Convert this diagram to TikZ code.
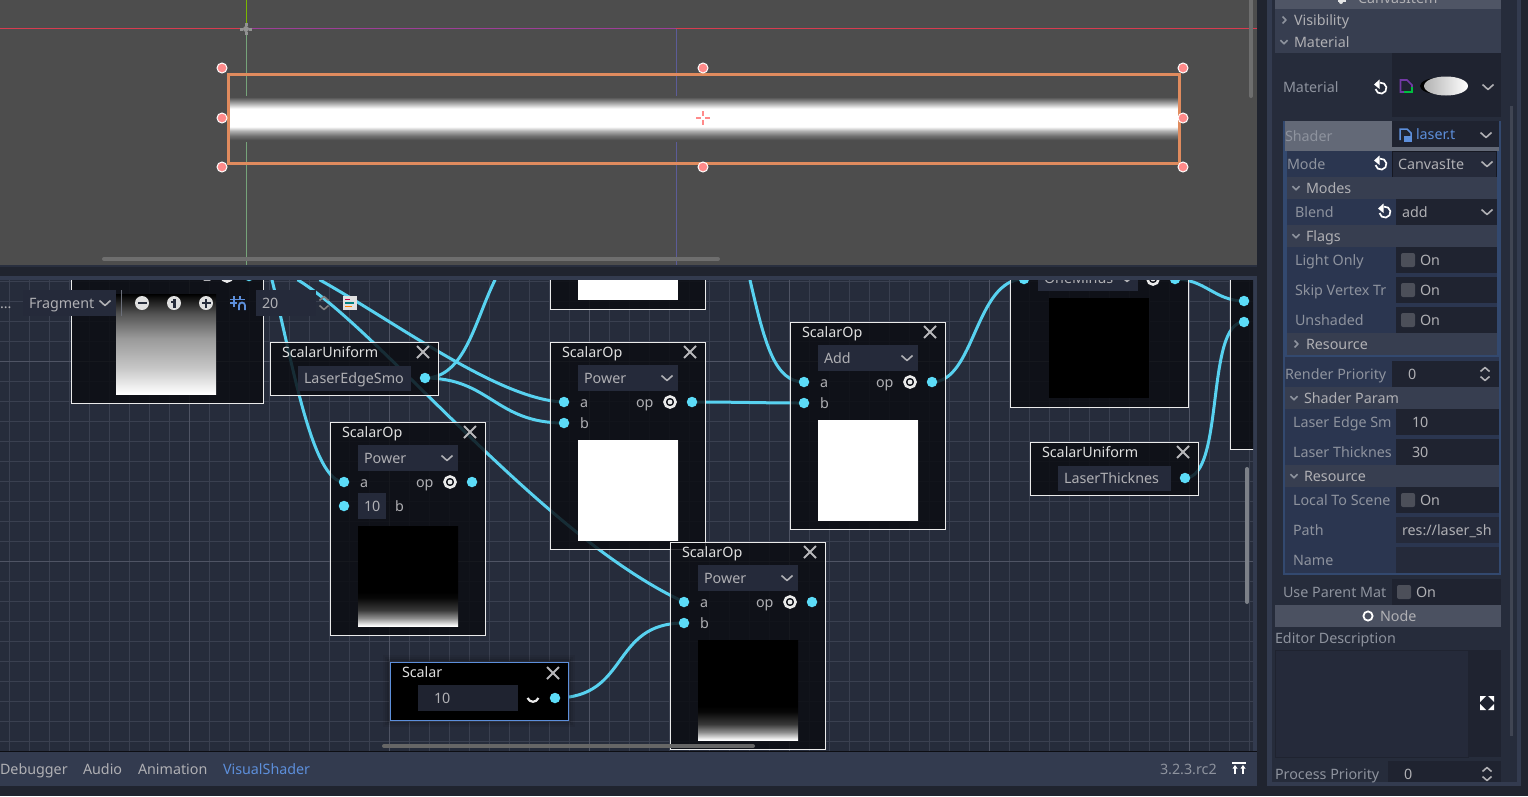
\documentclass[tikz,border=0pt]{standalone}
\usepackage{fontspec}
\setmainfont{Noto Sans}
\usetikzlibrary{shapes.geometric}
\definecolor{deskbg}{HTML}{20242F}
\definecolor{panelc}{HTML}{333B4F}
\definecolor{gridbg}{HTML}{262C3B}
\definecolor{gridmin}{HTML}{3A4050}
\definecolor{gridmaj}{HTML}{4F5464}
\definecolor{canvasc}{HTML}{4D4D4D}
\definecolor{gnodec}{HTML}{0B0C11}
\definecolor{fieldc}{HTML}{252A3A}
\definecolor{wirec}{HTML}{58D2F0}
\definecolor{portc}{HTML}{5CDCF8}
\definecolor{titlec}{HTML}{E0E0E0}
\definecolor{labelc}{HTML}{B0B0B4}
\definecolor{dockt}{HTML}{8E939E}
\definecolor{bluet}{HTML}{5D8FDB}
\definecolor{hdrc}{HTML}{373E50}
\definecolor{valc}{HTML}{1F2330}
\definecolor{sect}{HTML}{2B3650}
\definecolor{sectb}{HTML}{33496F}
\definecolor{orangec}{HTML}{E08B5E}
\definecolor{handlec}{HTML}{FF8A8A}
\definecolor{axred}{HTML}{D83C50}
\definecolor{axpur}{HTML}{9E3F98}
\definecolor{axgrn}{HTML}{76A47A}
\definecolor{axlim}{HTML}{7AB800}
\definecolor{axblu}{HTML}{5C5C98}
\pgfdeclareverticalshading{lasergrad}{100bp}{rgb(0bp)=(.302,.302,.302); rgb(26bp)=(.302,.302,.302); rgb(31bp)=(.45,.45,.45); rgb(36bp)=(.68,.68,.68); rgb(41bp)=(1,1,1); rgb(61bp)=(1,1,1); rgb(66bp)=(.72,.72,.72); rgb(70bp)=(.5,.5,.5); rgb(74bp)=(.302,.302,.302); rgb(100bp)=(.302,.302,.302)}
\pgfdeclareverticalshading{powergrad}{100bp}{rgb(0bp)=(1,1,1); rgb(25bp)=(1,1,1); rgb(26bp)=(.9,.9,.9); rgb(29bp)=(.55,.55,.55); rgb(33bp)=(.22,.22,.22); rgb(39bp)=(.03,.03,.03); rgb(42bp)=(0,0,0); rgb(100bp)=(0,0,0)}
\pgfdeclareverticalshading{softgrad}{100bp}{rgb(0bp)=(1,1,1); rgb(25bp)=(1,1,1); rgb(38bp)=(.78,.78,.78); rgb(53bp)=(.6,.6,.6); rgb(65bp)=(.33,.33,.33); rgb(75bp)=(0,0,0); rgb(100bp)=(0,0,0)}
\pgfdeclarelayer{wirelayer}
\pgfdeclarelayer{backlayer}
\pgfsetlayers{backlayer,wirelayer,main}
\tikzset{
 txt/.style={anchor=base west,inner sep=0pt,outer sep=0pt,font=\fontsize{14.3}{16}\selectfont,text=labelc},
 ttl/.style={txt,text=titlec},
 dk/.style={txt,text=dockt},
 lite/.style={txt,text=labelc},
 blu/.style={txt,text=bluet},
 gnode/.style={draw=white!92!black,line width=1pt,fill=gnodec,fill opacity=.83,anchor=north west,inner sep=0pt,outer sep=0pt},
 port/.style={circle,fill=portc,minimum size=10.5pt,inner sep=0pt,outer sep=0pt},
 wire/.style={draw=wirec,line width=3pt,line cap=round},
 field/.style={fill=fieldc},
 hdr/.style={fill=hdrc},
 xmark/.style={draw=labelc!90!white,line width=2pt},
 chev/.style={draw=#1,line width=1.6pt,line join=round},
 chev/.default={labelc},
 handle/.style={circle,draw=white,line width=1pt,fill=handlec,minimum size=10pt,inner sep=0pt,outer sep=0pt},
}
\newcommand{\tx}[5]{\node[#4] (#1) at (#2,#3) {#5};}
\newcommand{\cx}[2]{\draw[xmark] (#1-6,#2-6) -- (#1+6,#2+6) (#1-6,#2+6) -- (#1+6,#2-6);}
\newcommand{\dn}[3][labelc]{\draw[chev=#1] (#2-5.5,#3-2.5) -- (#2,#3+2.5) -- (#2+5.5,#3-2.5);}
\newcommand{\sdn}[2]{\draw[chev=dockt] (#1-3.5,#2-1.8) -- (#1,#2+1.8) -- (#1+3.5,#2-1.8);}
\newcommand{\rt}[2]{\draw[chev=dockt] (#1-1.5,#2-3.5) -- (#1+2,#2) -- (#1-1.5,#2+3.5);}
\newcommand{\spin}[3][labelc]{\draw[chev=#1] (#2-4.5,#3-2.5) -- (#2,#3-6.5) -- (#2+4.5,#3-2.5); \draw[chev=#1] (#2-4.5,#3+2.5) -- (#2,#3+6.5) -- (#2+4.5,#3+2.5);}
\newcommand{\eye}[2]{\draw[white!92!black,line width=2.5pt] (#1,#2) circle (5.6pt); \fill[white!92!black] (#1,#2) circle (2.4pt);}
\newcommand{\gbox}[5]{\node[gnode,minimum width=#4pt-#2pt,minimum height=#5pt-#3pt] (#1) at (#2,#3) {};}
\newcommand{\reset}[2]{\draw[white,line width=1.7pt] (#1-1,#2-5.3) arc[start angle=100,end angle=-170,radius=5.5pt]; \fill[white] (#1-7,#2-3.5) -- (#1-1.5,#2-8.5) -- (#1-1.5,#2+1) -- cycle;}
\newcommand{\ckbox}[2]{\fill[rounded corners=2pt,fill=white!20!valc] (#1,#2-7) rectangle (#1+14,#2+7);}
% id, x, y, height, op name, b offset, preview offset, shading
\newcommand{\scalarop}[8]{%
 \gbox{#1}{#2}{#3}{#2+155}{#3+#4}
 \tx{#1t}{#2+12}{#3+15}{ttl}{ScalarOp}
 \cx{#2+140}{#3+10}
 \fill[field] (#2+28,#3+23) rectangle (#2+128,#3+49);
 \tx{#1m}{#2+34}{#3+41}{lite}{#5}
 \dn[labelc]{#2+117}{#3+36}
 \node[port] (#1a) at (#2+14,#3+60) {};
 \node[port] (#1b) at (#2+14,#3+#6) {};
 \node[port] (#1o) at (#2+142,#3+60) {};
 \tx{#1la}{#2+30}{#3+65}{lite}{a}
 \tx{#1lo}{#2+86}{#3+65}{lite}{op}
 \eye{#2+120}{#3+60}
 \shade[shading=#8] (#2+28,#3+#7) rectangle (#2+128,#3+#7+100);
}
\begin{document}
\begin{tikzpicture}[x=1pt,y=-1pt]
\useasboundingbox (0,0) rectangle (1528,796);
% ------------------ background
\begin{pgfonlayer}{backlayer}
\fill[deskbg] (0,0) rectangle (1528,796);
\fill[canvasc] (0,0) rectangle (1257,265);
\fill[panelc!80!black] (0,265) rectangle (1257,267);
\fill[panelc] (0,276) rectangle (1257,786);
\fill[gridbg] (0,280) rectangle (1253,751);
\fill[black!60!deskbg] (0,751) rectangle (1257,752);
\begin{scope}
\clip (0,280) rectangle (1253,751);
\foreach \i in {0,...,62} \draw[gridmin,line width=.9pt] ({9.3+20*\i},280) -- ({9.3+20*\i},751);
\foreach \i in {0,...,23} \draw[gridmin,line width=.9pt] (0,{281+20*\i}) -- (1253,{281+20*\i});
\foreach \i in {0,...,6} \draw[gridmaj,line width=1pt] ({189.3+200*\i},280) -- ({189.3+200*\i},751);
\foreach \i in {0,1,2} \draw[gridmaj,line width=1pt] (0,{361+200*\i}) -- (1253,{361+200*\i});
\end{scope}
\end{pgfonlayer}
% ------------------ canvas viewport
\draw[axgrn,line width=1pt] (246,29) -- (246,265);
\draw[axlim,line width=1pt] (246,0) -- (246,29);
\draw[axred,line width=1pt] (0,28.5) -- (246,28.5);
\draw[axred,line width=1pt] (676,28.5) -- (1257,28.5);
\draw[axpur,line width=1pt] (246,28.5) -- (676,28.5);
\draw[axblu,line width=1pt] (676,29) -- (676,265);
\shade[shading=lasergrad] (229,96) rectangle (1178,141);
\draw[orangec,line width=3pt] (228,74) rectangle (1179,163);
\node[handle] (h1) at (222,68) {};
\node[handle] (h2) at (703,68) {};
\node[handle] (h3) at (1183,68) {};
\node[handle] (h4) at (222,118) {};
\node[handle] (h5) at (1183,118) {};
\node[handle] (h6) at (222,167) {};
\node[handle] (h7) at (703,167) {};
\node[handle] (h8) at (1183,167) {};
\draw[handlec,line width=1.3pt] (696,118) -- (701,118) (705,118) -- (710,118) (703,111) -- (703,116) (703,120) -- (703,125);
\draw[gray!85!white,line width=3pt] (240,29) -- (243,29) (249,29) -- (252,29) (246,23) -- (246,26) (246,32) -- (246,35);
\fill[gray!85!white] (246,29) circle (3pt);
\draw[white!43!black,line width=4pt,line cap=round] (104,259) -- (718,259);
\draw[white!43!black,line width=4pt,line cap=round] (1251,0) -- (1251,96);
% ------------------ graph nodes (clipped)
\begin{scope}
\clip (0,280) rectangle (1253,751);
% top left node
\gbox{tl}{71}{200}{263}{403}
\shade[shading=softgrad] (116,294) rectangle (216,394);
\tx{tlb}{203}{281}{lite}{2}
\eye{227}{276}
\node[port] (tlo) at (249,276) {};
% partial centre top
\gbox{pc}{550}{200}{705}{309}
\fill[white] (578,200) rectangle (678,300);
% OneMinus
\gbox{om}{1010}{200}{1188}{407}
\fill[field] (1038,265) rectangle (1138,291);
\tx{omt}{1044}{283}{lite}{OneMinus}
\dn{1127}{279}
\eye{1153}{279}
\node[port] (oma) at (1024,279) {};
\node[port] (omo) at (1175,279) {};
\fill[black] (1049,298) rectangle (1149,398);
% right partial
\gbox{rp}{1230}{200}{1300}{449}
\node[port] (rpa) at (1244,301) {};
\node[port] (rpb) at (1244,322) {};
% ScalarUniform 1
\gbox{su}{270}{342}{438}{395}
\tx{sut}{282}{357}{ttl}{ScalarUniform}
\cx{423}{352}
\fill[field] (298,366) rectangle (411,391);
\tx{suv}{304}{383}{lite}{LaserEdgeSmo}
\node[port] (suo) at (425,378) {};
% ScalarUniform 2
\gbox{st}{1030}{442}{1198}{495}
\tx{stt}{1042}{457}{ttl}{ScalarUniform}
\cx{1183}{452}
\fill[field] (1058,466) rectangle (1171,491);
\tx{stv}{1064}{483}{lite}{LaserThicknes}
\node[port] (sto) at (1185,478) {};
% ScalarOps
\scalarop{oa}{330}{422}{213}{Power}{84}{104}{powergrad}
\fill[field] (358,493) rectangle (386,519);
\tx{oav}{364}{511}{lite}{10}
\tx{oalb}{395}{511}{lite}{b}
\scalarop{ob}{550}{342}{207}{Power}{81}{98}{axis}
\tx{oblb}{580}{428}{lite}{b}
\fill[white] (578,440) rectangle (678,540);
\scalarop{oc}{790}{322}{207}{Add}{81}{98}{axis}
\tx{oclb}{820}{408}{lite}{b}
\fill[white] (818,420) rectangle (918,520);
\scalarop{od}{670}{542}{207}{Power}{81}{98}{powergrad}
\tx{odlb}{700}{628}{lite}{b}
% Scalar
\foreach \s/\o in {7/.05,5/.07,3/.09,1/.12} \fill[black,opacity=\o] (390-\s,662-\s) rectangle (568+\s,720+\s);
\node[draw=bluet,line width=1pt,fill=black,anchor=north west,minimum width=178pt,minimum height=58pt,inner sep=0pt,outer sep=0pt] (sc) at (390,662) {};
\tx{sct}{402}{677}{ttl}{Scalar}
\cx{553}{673}
\fill[valc] (418,685) rectangle (518,711);
\tx{scv}{434}{703}{lite}{10}
\draw[white!92!black,line width=2.2pt] (527.5,698) .. controls (530,703) and (536,703) .. (538.5,698);
\node[port] (sco) at (555,698) {};
\end{scope}
\coordinate (w1s) at (272,280);
\coordinate (w2s) at (298,280);
\coordinate (w3s) at (320,280);
\coordinate (w4e) at (495,280);
\coordinate (w7s) at (750,280);
% ------------------ wires under the nodes
\begin{pgfonlayer}{wirelayer}
\begin{scope}
\clip (0,280) rectangle (1253,751);
\draw[wire] (w1s) .. controls (292,360) and (312,482) .. (oaa.center);
\draw[wire] (w2s) .. controls (380,330) and (540,535) .. (oda.center);
\draw[wire] (w3s) .. controls (400,325) and (500,400) .. (oba.center);
\draw[wire] (suo.center) .. controls (465,378) and (475,320) .. (w4e);
\draw[wire] (suo.center) .. controls (490,378) and (495,423) .. (obb.center);
\draw[wire] (obo.center) .. controls (740,402) and (760,403) .. (ocb.center);
\draw[wire] (w7s) .. controls (765,345) and (775,382) .. (oca.center);
\draw[wire] (oco.center) .. controls (975,382) and (975,279) .. (oma.center);
\draw[wire] (omo.center) .. controls (1205,279) and (1215,301) .. (rpa.center);
\draw[wire] (sto.center) .. controls (1225,478) and (1205,322) .. (rpb.center);
\draw[wire] (sco.center) .. controls (630,698) and (610,623) .. (odb.center);
\end{scope}
\end{pgfonlayer}
% ------------------ toolbar over the graph
\tx{tdots}{0}{308}{lite}{...}
\fill[field] (23,290) rectangle (116,316);
\tx{tfrag}{29}{308}{lite}{Fragment}
\dn{105}{303}
\draw[white!32!gridbg,line width=1pt] (121.5,290) -- (121.5,316);
\fill[white!88!black] (142,303) circle (7pt);
\fill[gridbg] (137.5,301.8) rectangle (146.5,304.2);
\fill[white!88!black] (174,303) circle (7pt);
\fill[gridbg] (173,298.5) rectangle (175.5,307.5);
\fill[gridbg] (171,300.5) rectangle (174,302.5);
\fill[white!88!black] (206,303) circle (7pt);
\fill[gridbg] (201.5,301.8) rectangle (210.5,304.2);
\fill[gridbg] (204.8,298.5) rectangle (207.2,307.5);
\draw[bluet,line width=1.8pt] (234,296) -- (234,307) (230,299.5) -- (245,299.5) (230,303) -- (237,303);
\draw[bluet,line width=1.8pt] (239,310) -- (239,305.5) arc[start angle=180,end angle=0,radius=3pt] -- (245,310);
\draw[bluet,line width=1.8pt] (240,296) -- (240,300);
\fill[field] (256,290) rectangle (316,316);
\tx{tsnap}{262}{308}{lite}{20}
\spin[gray]{324}{303}
\fill[white!88!black] (343,296) rectangle (357,310);
\fill[purple] (345,298.5) rectangle (350,300);
\fill[teal] (345,302) rectangle (354,303.5);
\fill[orange] (345,305.5) rectangle (352,307);
\draw[white!40!black,line width=4pt,line cap=round] (384,746) -- (753,746);
\draw[white!40!gridbg,line width=4pt,line cap=round] (1247,469) -- (1247,602);
% ------------------ bottom bar
\tx{bdbg}{0}{774}{lite}{Debugger}
\tx{baud}{83}{774}{lite}{Audio}
\tx{bani}{138}{774}{lite}{Animation}
\tx{bvis}{223}{774}{blu}{VisualShader}
\tx{bver}{1160}{774}{dk}{3.2.3.rc2}
\draw[white,line width=1.3pt] (1232,763) -- (1246,763);
\draw[white,line width=1.5pt] (1235,774) -- (1235,767) (1243,774) -- (1243,767);
\fill[white] (1232.5,768.5) -- (1235,765) -- (1237.5,768.5) -- cycle (1240.5,768.5) -- (1243,765) -- (1245.5,768.5) -- cycle;
% ------------------ inspector dock
\fill[panelc] (1267,0) rectangle (1521,786);
\fill[gridbg] (1272,0) rectangle (1517,782);
\fill[hdrc!88!white] (1275,0) rectangle (1501,9);
\fill[hdr] (1275,9) rectangle (1501,53);
\tx{dci}{1358}{3}{lite}{CanvasItem}
\fill[white!90!black] (1338,0) rectangle (1346,2);
\fill[white!90!black] (1341,2) circle (2pt);
\rt{1284}{20}
\tx{dvis}{1294}{25}{lite}{Visibility}
\sdn{1284}{42}
\tx{dmat}{1294}{47}{lite}{Material}
\tx{dmtl}{1283}{92}{dk}{Material}
\reset{1381}{88}
\fill[valc] (1392,53) rectangle (1501,117);
\draw[violet!60!bluet,line width=1.6pt] (1400.5,92) -- (1400.5,80) -- (1407,80) -- (1412,85) -- (1412,92) -- cycle;
\draw[green!50!teal,line width=1.6pt] (1404,92) -- (1412,92) -- (1412,87);
\fill[black] (1438,86) ellipse [x radius=18pt,y radius=8pt];
\node[ellipse,minimum width=44pt,minimum height=19pt,inner sep=0pt,outer sep=0pt,left color=white!70!black,right color=white] (dprev) at (1446,86) {};
\dn{1488}{87}
\draw[white!12!gridbg,line width=3pt] (1511,106) -- (1511,736);
% shader section
\fill[sectb] (1283,121) rectangle (1501,575);
\fill[sect] (1285,123) rectangle (1499,573);
\fill[white!22!hdrc] (1285,121) rectangle (1392,151);
\fill[white!22!hdrc] (1392,147) rectangle (1499,151);
\tx{dsh}{1285}{141}{dk}{Shader}
\fill[valc] (1392,121) rectangle (1499,147);
\draw[bluet,line width=1.5pt] (1400,140) -- (1400,129) -- (1407,129) -- (1411,133) -- (1411,136);
\fill[bluet] (1404,136) rectangle (1412,142);
\tx{dlas}{1416}{139}{blu}{laser.t}
\dn{1486}{135}
\fill[sectb] (1285,151) rectangle (1499,357);
\fill[sect] (1287,151) rectangle (1497,355);
\tx{dmode}{1287}{169}{dk}{Mode}
\reset{1381}{164}
\draw[valc!70!black,fill=fieldc,line width=1pt] (1392.5,151.5) rectangle (1496.5,177);
\tx{dcvs}{1398}{169}{lite}{CanvasIte}
\dn{1487}{164}
\fill[hdr] (1287,177) rectangle (1497,199);
\sdn{1296}{188}
\tx{dmds}{1306}{193}{lite}{Modes}
\tx{dbl}{1295}{217}{dk}{Blend}
\reset{1385}{212}
\fill[valc] (1396,199) rectangle (1497,225);
\tx{dadd}{1402}{217}{lite}{add}
\dn{1487}{212}
\fill[hdr] (1287,225) rectangle (1497,247);
\sdn{1296}{236}
\tx{dflg}{1306}{241}{lite}{Flags}
\tx{dlo}{1295}{265}{dk}{Light Only}
\fill[valc] (1396,247) rectangle (1497,273);
\ckbox{1401}{260}
\tx{don1}{1420}{265}{lite}{On}
\tx{dsv}{1295}{295}{dk}{Skip Vertex Tr}
\fill[valc] (1396,277) rectangle (1497,303);
\ckbox{1401}{290}
\tx{don2}{1420}{295}{lite}{On}
\tx{dun}{1295}{325}{dk}{Unshaded}
\fill[valc] (1396,307) rectangle (1497,333);
\ckbox{1401}{320}
\tx{don3}{1420}{325}{lite}{On}
\fill[hdr] (1287,333) rectangle (1497,355);
\rt{1296}{344}
\tx{drs}{1306}{349}{lite}{Resource}
\tx{drp}{1285}{379}{dk}{Render Priority}
\fill[valc] (1392,361) rectangle (1499,387);
\tx{drpv}{1408}{379}{lite}{0}
\spin{1485}{374}
\fill[hdr] (1285,387) rectangle (1499,409);
\sdn{1294}{398}
\tx{dsp}{1304}{403}{lite}{Shader Param}
\tx{dle}{1293}{427}{dk}{Laser Edge Sm}
\fill[valc] (1396,409) rectangle (1499,435);
\tx{dlev}{1412}{427}{lite}{10}
\tx{dlt}{1293}{457}{dk}{Laser Thicknes}
\fill[valc] (1396,439) rectangle (1499,465);
\tx{dltv}{1412}{457}{lite}{30}
\fill[hdr] (1285,465) rectangle (1499,487);
\sdn{1294}{476}
\tx{drs2}{1304}{481}{lite}{Resource}
\tx{dlts}{1293}{505}{dk}{Local To Scene}
\fill[valc] (1396,487) rectangle (1499,513);
\ckbox{1401}{500}
\tx{don4}{1420}{505}{lite}{On}
\tx{dpth}{1293}{535}{dk}{Path}
\fill[fieldc] (1396,517) rectangle (1499,543);
\tx{dpthv}{1402}{535}{lite}{res://laser\_sh}
\tx{dnm}{1293}{565}{dk}{Name}
\fill[fieldc] (1396,547) rectangle (1499,573);
% below section
\tx{dup}{1283}{597}{dk}{Use Parent Mat}
\fill[valc] (1392,579) rectangle (1501,605);
\ckbox{1397}{592}
\tx{don5}{1416}{597}{lite}{On}
\fill[white!10!hdrc] (1275,605) rectangle (1501,627);
\draw[white,line width=1.8pt] (1368,616) circle (4.6pt);
\tx{dnd}{1380}{621}{lite}{Node}
\tx{ded}{1275}{643}{dk}{Editor Description}
\draw[valc,fill=fieldc,line width=1pt] (1275.5,650.5) rectangle (1468,757);
\fill[valc] (1468,650) rectangle (1501,757);
\fill[white] (1480,696) -- (1486,696) -- (1480,702) -- cycle (1494,696) -- (1488,696) -- (1494,702) -- cycle (1480,710) -- (1486,710) -- (1480,704) -- cycle (1494,710) -- (1488,710) -- (1494,704) -- cycle;
\tx{dpp}{1275}{779}{dk}{Process Priority}
\fill[valc] (1388,761) rectangle (1501,782);
\tx{dppv}{1404}{779}{lite}{0}
\spin{1487}{774}
\end{tikzpicture}
\end{document}
